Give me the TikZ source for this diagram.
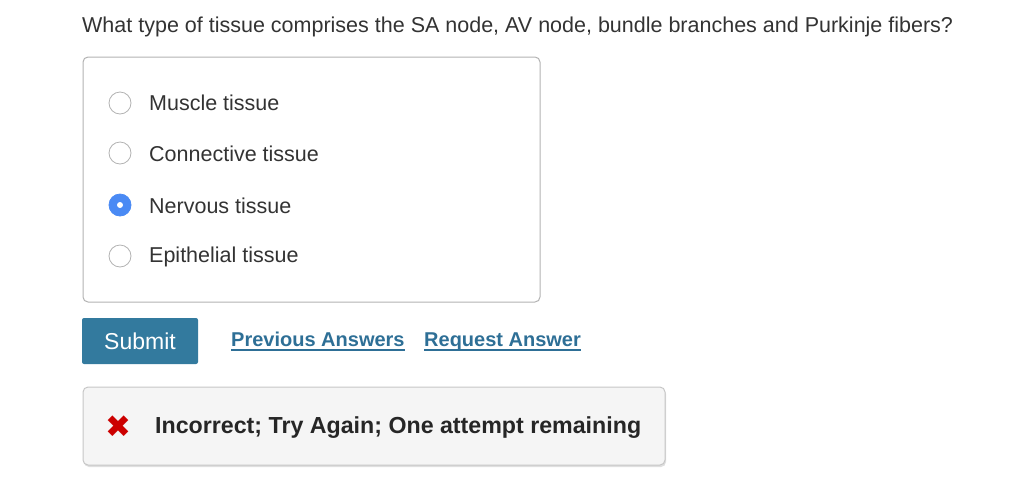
\documentclass[tikz,border=0pt]{standalone}
\usepackage{fontspec}
\setmainfont{Liberation Sans}
\newfontfamily\dejavu{DejaVu Sans}
\usetikzlibrary{shadows}
\definecolor{txt}{HTML}{333333}
\definecolor{teal}{HTML}{337A9E}
\definecolor{lnk}{HTML}{2E6F96}
\definecolor{rb}{HTML}{4A8AF4}
\tikzset{
 radio/.style={circle,draw=gray!60,line width=0.8pt,minimum size=22pt,inner sep=0pt},
 opt/.style={anchor=west,text=txt,font=\fontsize{21.5}{24}\selectfont,inner sep=0pt},
 lnkstyle/.style={anchor=base west,text=lnk,font=\bfseries\fontsize{20}{22}\selectfont,inner sep=0pt}
}
\begin{document}
\begin{tikzpicture}[x=1pt,y=-1pt]
\useasboundingbox (0,0) rectangle (1024,491);
\node[anchor=west,text=txt,font=\fontsize{21.5}{24}\selectfont,inner sep=0pt] (q) at (82,27) {What type of tissue comprises the SA node, AV node, bundle branches and Purkinje fibers?};
\draw[gray!60,line width=1pt,rounded corners=5pt] (83,57) rectangle (540,302);
\node[radio] (r1) at (120,103) {};
\node[radio] (r2) at (120,153) {};
\node[radio,fill=rb,draw=rb] (r3) at (120,205) {};
\fill[white] (r3.center) circle (3pt);
\node[radio] (r4) at (120,256) {};
\node[opt] (o1) at (149,103) {Muscle tissue};
\node[opt] (o2) at (149,154) {Connective tissue};
\node[opt] (o3) at (149,206) {Nervous tissue};
\node[opt] (o4) at (149,257) {Epithelial tissue};
\node[fill=teal,minimum width=116pt,minimum height=46pt,text=white,font=\fontsize{23}{24}\selectfont,inner sep=0pt,rounded corners=2pt] (sub) at (140,341) {Submit};
\node[lnkstyle] (pa) at (231,346) {Previous Answers};
\node[lnkstyle] (ra) at (424,346) {Request Answer};
\draw[lnk,line width=1.3pt] (pa.base west) ++(0,4) -- ([yshift=-4pt]pa.base east);
\draw[lnk,line width=1.3pt] (ra.base west) ++(0,4) -- ([yshift=-4pt]ra.base east);
\node[draw=gray!45,fill=black!4,line width=1pt,rounded corners=5pt,minimum width=582pt,minimum height=78pt,drop shadow={shadow xshift=1pt,shadow yshift=-2pt,opacity=0.25}] (fb) at (374,426) {};
\node[text=red!80!black,font=\dejavu\bfseries\fontsize{31}{31}\selectfont,inner sep=0pt] (x) at (118,427) {✖};
\node[anchor=west,text=black!85,font=\bfseries\fontsize{23.2}{24}\selectfont,inner sep=0pt] (msg) at (155,428) {Incorrect; Try Again; One attempt remaining};
\end{tikzpicture}
\end{document}
